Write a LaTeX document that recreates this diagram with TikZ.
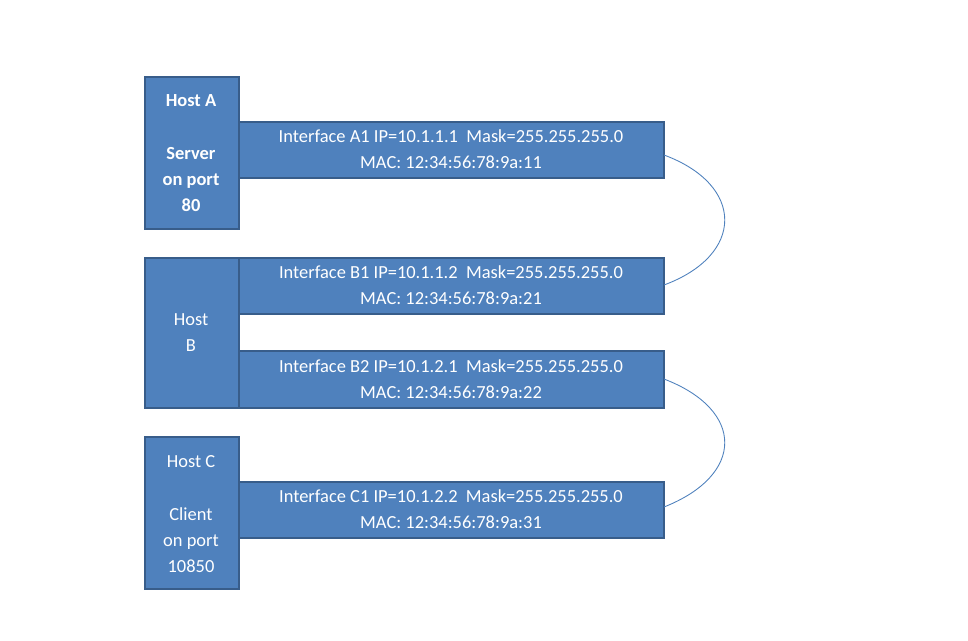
\documentclass[tikz,border=0pt]{standalone}
\usepackage{fontspec}
\setmainfont{Carlito}
\begin{document}
\begin{tikzpicture}[x=0.02cm,y=-0.02cm,
  box/.style={draw=boxline,fill=boxfill,line width=0.9pt},
  txt/.style={text=white,font=\fontsize{10.5}{14.8}\selectfont,align=center,inner sep=0pt},
  link/.style={draw=boxfill,line width=0.5pt}]
\definecolor{boxfill}{HTML}{4F81BD}
\definecolor{boxline}{HTML}{385D8A}
\useasboundingbox (0,0) rectangle (968,640);
% hosts
\draw[box] (145,77) rectangle (239,229);
\draw[box] (145,258) rectangle (239,408);
\draw[box] (145,437) rectangle (239,589);
% interfaces
\draw[box] (239,122) rectangle (664,178);
\draw[box] (239,258) rectangle (664,314);
\draw[box] (239,351) rectangle (664,408);
\draw[box] (239,482) rectangle (664,538);
% host texts
\node[txt,font=\fontsize{10.5}{14.8}\selectfont\bfseries] (ha) at (191,101) {Host A};
\node[txt,font=\fontsize{10.5}{14.8}\selectfont\bfseries] (hasrv) at (191,180) {Server\\on port\\80};
\node[txt] (hb) at (191,333) {Host\\B};
\node[txt] (hc) at (191,462) {Host C};
\node[txt] (hccl) at (191,540) {Client\\on port\\10850};
% interface texts
\node[txt] (a1) at (451,149) {Interface A1 IP=10.1.1.1\ \ Mask=255.255.255.0\\MAC: 12:34:56:78:9a:11};
\node[txt] (b1) at (451,285) {Interface B1 IP=10.1.1.2\ \ Mask=255.255.255.0\\MAC: 12:34:56:78:9a:21};
\node[txt] (b2) at (451,379) {Interface B2 IP=10.1.2.1\ \ Mask=255.255.255.0\\MAC: 12:34:56:78:9a:22};
\node[txt] (c1) at (451,509) {Interface C1 IP=10.1.2.2\ \ Mask=255.255.255.0\\MAC: 12:34:56:78:9a:31};
% links
\coordinate (pa) at (664,155);
\coordinate (pb1) at (664,285);
\coordinate (pb2) at (664,379);
\coordinate (pc) at (664,507);
\draw[link] (pa) .. controls (745,185) and (745,255) .. (pb1);
\draw[link] (pb2) .. controls (745,410) and (745,475) .. (pc);
\end{tikzpicture}
\end{document}
